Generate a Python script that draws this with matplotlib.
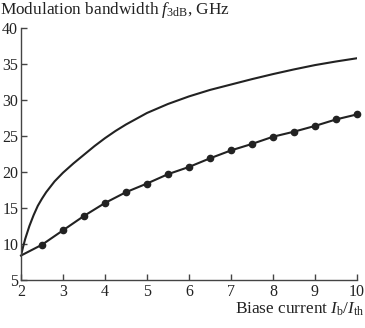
import matplotlib
matplotlib.use("Agg")
import matplotlib.pyplot as plt

# upper curve (solid, no markers)
x_upper = [2.0, 2.05, 2.1, 2.2, 2.3, 2.4, 2.5, 2.6, 2.8, 3.0, 3.25, 3.5, 3.75, 4.0, 4.25,
           4.5, 4.75, 5.0, 5.5, 6.0, 6.5, 7.0, 7.5, 8.0, 8.5, 9.0, 9.5, 10.0]
f_upper = [8.4, 9.6, 10.7, 12.5, 14.0, 15.3, 16.3, 17.2, 18.7, 19.9, 21.2, 22.4, 23.6, 24.7,
           25.7, 26.6, 27.4, 28.2, 29.45, 30.5, 31.4, 32.15, 32.9, 33.6, 34.25, 34.85,
           35.35, 35.8]

# lower curve (with dots)
x_lower = [2.0, 2.5, 3.0, 3.5, 4.0, 4.5, 5.0, 5.5, 6.0, 6.5, 7.0, 7.5, 8.0, 8.5, 9.0, 9.5, 10.0]
f_lower = [8.4, 9.9, 11.9, 13.9, 15.7, 17.2, 18.4, 19.7, 20.7, 21.9, 23.0, 23.9, 24.9, 25.6,
           26.4, 27.3, 28.0]

x_ticks = [2, 3, 4, 5, 6, 7, 8, 9, 10]
y_ticks = [5, 10, 15, 20, 25, 30, 35, 40]

plt.rcParams['font.family'] = 'Liberation Serif'
plt.rcParams['mathtext.fontset'] = 'custom'
plt.rcParams['mathtext.rm'] = 'Liberation Serif'
plt.rcParams['mathtext.it'] = 'Liberation Serif:italic'

fig = plt.figure(figsize=(3.65, 3.28), dpi=100)
ax = fig.add_axes([0.0575, 0.1463, 0.9205, 0.7683])

line_col = '#222222'
ax.plot(x_upper, f_upper, color=line_col, lw=1.5)
ax.plot(x_lower, f_lower, color=line_col, lw=1.5, clip_on=False)
ax.plot(x_lower[1:], f_lower[1:], 'o', color=line_col, ms=4.5, clip_on=False)

ax.set_xlim(2, 10)
ax.set_ylim(5, 40)
ax.set_xticks(x_ticks)
ax.set_yticks(y_ticks)
ax.spines['top'].set_visible(False)
ax.spines['right'].set_visible(False)
for s in ['left', 'bottom']:
    ax.spines[s].set_color('#444444')
    ax.spines[s].set_linewidth(1.0)
ax.tick_params(axis='both', direction='in', length=4, width=1.0, color='#444444',
               labelsize=11.5, labelcolor='#222222')
ax.tick_params(axis='x', pad=3)
ax.tick_params(axis='y', pad=2)

fig.text(0.0, 0.957, r"Modulation bandwidth $f_{\mathrm{3dB}}$, GHz", fontsize=12.4,
         color='#222222', va='baseline', ha='left')
fig.text(0.998, 0.044, r"Biase current $I_{\mathrm{b}}/I_{\mathrm{th}}$", fontsize=12.4,
         color='#222222', va='baseline', ha='right')

fig.savefig("out.png", dpi=100)
